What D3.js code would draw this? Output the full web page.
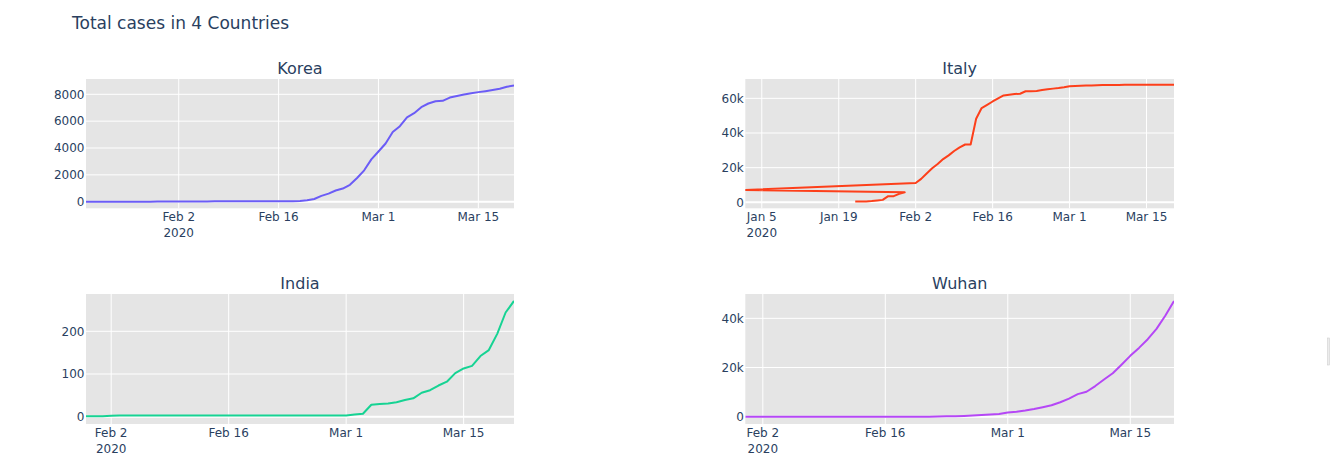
<!DOCTYPE html>
<html><head><meta charset="utf-8">
<script src="https://cdn.jsdelivr.net/npm/d3@7"></script>
<style>
body{margin:0;background:#fff}
svg{display:block}
text{font-family:"DejaVu Sans",Verdana,sans-serif;fill:#2a3f5f}
</style>
</head><body>
<svg id="chart" width="1330" height="470"></svg>
<script>
// ---------------- DATA ----------------
const chartTitle = "Total cases in 4 Countries";
const panelNames = ["Korea", "Italy", "India", "Wuhan"];

const koreaStart = "2020-01-20";
const koreaCases = [1,1,1,1,2,2,3,4,4,4,6,11,
  12,15,15,16,19,23,24,24,27,27,28,28,28,28,28,29,30,31,51,104,204,433,602,833,977,1261,1766,2337,3150,
  3736,4335,5186,5621,6284,6593,7041,7314,7478,7513,7755,7869,7979,8086,8162,8236,8320,8413,8565,8652];

const italyDates = ["2020-01-22","2020-01-23","2020-01-24","2020-01-25","2020-01-26","2020-01-27","2020-01-28",
  "2020-01-29","2020-01-30","2020-01-31","2020-01-02",
  "2020-02-02","2020-02-03","2020-02-04","2020-02-05","2020-02-06","2020-02-07","2020-02-08","2020-02-09",
  "2020-02-10","2020-02-11","2020-02-12","2020-02-13","2020-02-14","2020-02-15","2020-02-16","2020-02-17",
  "2020-02-18","2020-02-19","2020-02-20","2020-02-21","2020-02-22","2020-02-23","2020-02-24","2020-02-25",
  "2020-02-26","2020-02-27","2020-02-28","2020-02-29",
  "2020-03-01","2020-03-02","2020-03-03","2020-03-04","2020-03-05","2020-03-06","2020-03-07","2020-03-08",
  "2020-03-09","2020-03-10","2020-03-11","2020-03-12","2020-03-13","2020-03-14","2020-03-15","2020-03-16",
  "2020-03-17","2020-03-18","2020-03-19","2020-03-20"];
const italyCases = [444,444,549,761,1058,1423,3554,3554,4903,5806,7153,
  11177,13522,16678,19665,22112,24953,27100,29631,31728,33366,33366,48206,54406,56249,58182,59989,
  61682,62031,62442,62662,64084,64084,64287,64786,65187,65596,65914,66337,
  66907,67103,67217,67332,67466,67592,67666,67707,67743,67760,67773,67781,67786,67790,67794,67798,
  67799,67800,67800,67800];

const indiaStart = "2020-01-30";
const indiaCases = [1,1,1,2,
  3,3,3,3,3,3,3,3,3,3,3,3,3,3,3,3,3,3,3,3,3,3,3,3,3,3,3,3,
  5,7,28,30,31,34,39,43,56,62,73,82,102,113,119,142,156,194,244,271];

const wuhanStart = "2020-01-31";
const wuhanCases = [2,2,2,2,2,2,2,
  3,3,3,3,3,3,3,3,3,3,3,3,3,3,
  20,62,155,229,322,453,655,888,1128,
  1694,2036,2502,3089,3858,4636,5883,7375,9172,10149,12462,15113,17660,21157,24747,27980,31506,35713,41035,47021];

const koreaYTicks = [0,2000,4000,6000,8000];
const italyYTicks = [0,20000,40000,60000];
const indiaYTicks = [0,100,200];
const wuhanYTicks = [0,20000,40000];

const koreaXTicks = ["2020-02-02","2020-02-16","2020-03-01","2020-03-15"];
const italyXTicks = ["2020-01-05","2020-01-19","2020-02-02","2020-02-16","2020-03-01","2020-03-15"];
const indiaXTicks = ["2020-02-02","2020-02-16","2020-03-01","2020-03-15"];
const wuhanXTicks = ["2020-02-02","2020-02-16","2020-03-01","2020-03-15"];
const yearLabel = "2020";

// ---------------- BUILD ----------------
const parse = d3.timeParse("%Y-%m-%d");
const seq = (start, n) => d3.range(n).map(i => d3.timeDay.offset(parse(start), i));

const panels = [
  {name: panelNames[0], dates: seq(koreaStart, koreaCases.length), values: koreaCases, color: "#6b5cf6",
   x0: 86, x1: 514, y0: 79, y1: 208.3, yDomain: [-492, 9140], yTicks: koreaYTicks, xTicks: koreaXTicks, fmt: d3.format("d")},
  {name: panelNames[1], dates: italyDates.map(parse), values: italyCases, color: "#fd3f1a",
   x0: 745.3, x1: 1174, y0: 79, y1: 208.3, yDomain: [-3440, 71150], yTicks: italyYTicks, xTicks: italyXTicks, fmt: d3.format("~s")},
  {name: panelNames[2], dates: seq(indiaStart, indiaCases.length), values: indiaCases, color: "#16d393",
   x0: 86, x1: 514, y0: 294, y1: 424, yDomain: [-17.1, 287.3], yTicks: indiaYTicks, xTicks: indiaXTicks, fmt: d3.format("d")},
  {name: panelNames[3], dates: seq(wuhanStart, wuhanCases.length), values: wuhanCases, color: "#b547f6",
   x0: 745.3, x1: 1174, y0: 294, y1: 424, yDomain: [-2970, 49900], yTicks: wuhanYTicks, xTicks: wuhanXTicks, fmt: d3.format("~s")}
];

const svg = d3.select("#chart");
svg.append("rect").attr("width", 1330).attr("height", 470).attr("fill", "#fff");

svg.append("text").attr("x", 72).attr("y", 29).attr("font-size", 17).text(chartTitle);

const tickFmt = d3.timeFormat("%b %-d");

panels.forEach((p, i) => {
  const x = d3.scaleTime().domain(d3.extent(p.dates)).range([p.x0, p.x1]);
  const y = d3.scaleLinear().domain(p.yDomain).range([p.y1, p.y0]);
  const g = svg.append("g");

  g.append("rect").attr("x", p.x0).attr("y", p.y0).attr("width", p.x1 - p.x0).attr("height", p.y1 - p.y0)
    .attr("fill", "#e5e5e5");

  const xt = p.xTicks.map(parse);
  g.selectAll(".xg").data(xt).enter().append("line")
    .attr("x1", d => x(d)).attr("x2", d => x(d)).attr("y1", p.y0).attr("y2", p.y1)
    .attr("stroke", "#fff").attr("stroke-width", 1);
  g.selectAll(".yg").data(p.yTicks).enter().append("line")
    .attr("x1", p.x0).attr("x2", p.x1).attr("y1", d => y(d)).attr("y2", d => y(d))
    .attr("stroke", "#fff").attr("stroke-width", d => d === 0 ? 2 : 1);

  const clipId = "clip" + i;
  svg.append("clipPath").attr("id", clipId).append("rect")
    .attr("x", p.x0).attr("y", p.y0).attr("width", p.x1 - p.x0).attr("height", p.y1 - p.y0);

  const line = d3.line().x((d, j) => x(p.dates[j])).y(d => y(d));
  g.append("path").datum(p.values).attr("d", line).attr("fill", "none")
    .attr("stroke", p.color).attr("stroke-width", 2).attr("stroke-linejoin", "round")
    .attr("clip-path", `url(#${clipId})`);

  // y tick labels
  g.selectAll(".yl").data(p.yTicks).enter().append("text")
    .attr("x", p.x0 - 1.5).attr("y", d => y(d)).attr("dy", "0.36em")
    .attr("text-anchor", "end").attr("font-size", 12).text(d => p.fmt(d));

  // x tick labels
  xt.forEach((d, k) => {
    g.append("text").attr("x", x(d)).attr("y", p.y1 + 12.6)
      .attr("text-anchor", "middle").attr("font-size", 12).text(tickFmt(d));
    if (k === 0) {
      g.append("text").attr("x", x(d)).attr("y", p.y1 + 28.5)
        .attr("text-anchor", "middle").attr("font-size", 12).text(yearLabel);
    }
  });

  // subplot title
  g.append("text").attr("x", (p.x0 + p.x1) / 2).attr("y", p.y0 - 4.6)
    .attr("text-anchor", "middle").attr("font-size", 16).text(p.name);
});

// small scrollbar-like artifact at the right edge
svg.append("rect").attr("x", 1327.5).attr("y", 338).attr("width", 2).attr("height", 27)
  .attr("fill", "#ececec").attr("stroke", "#d0d0d0").attr("stroke-width", 0.6);
</script>
</body></html>
